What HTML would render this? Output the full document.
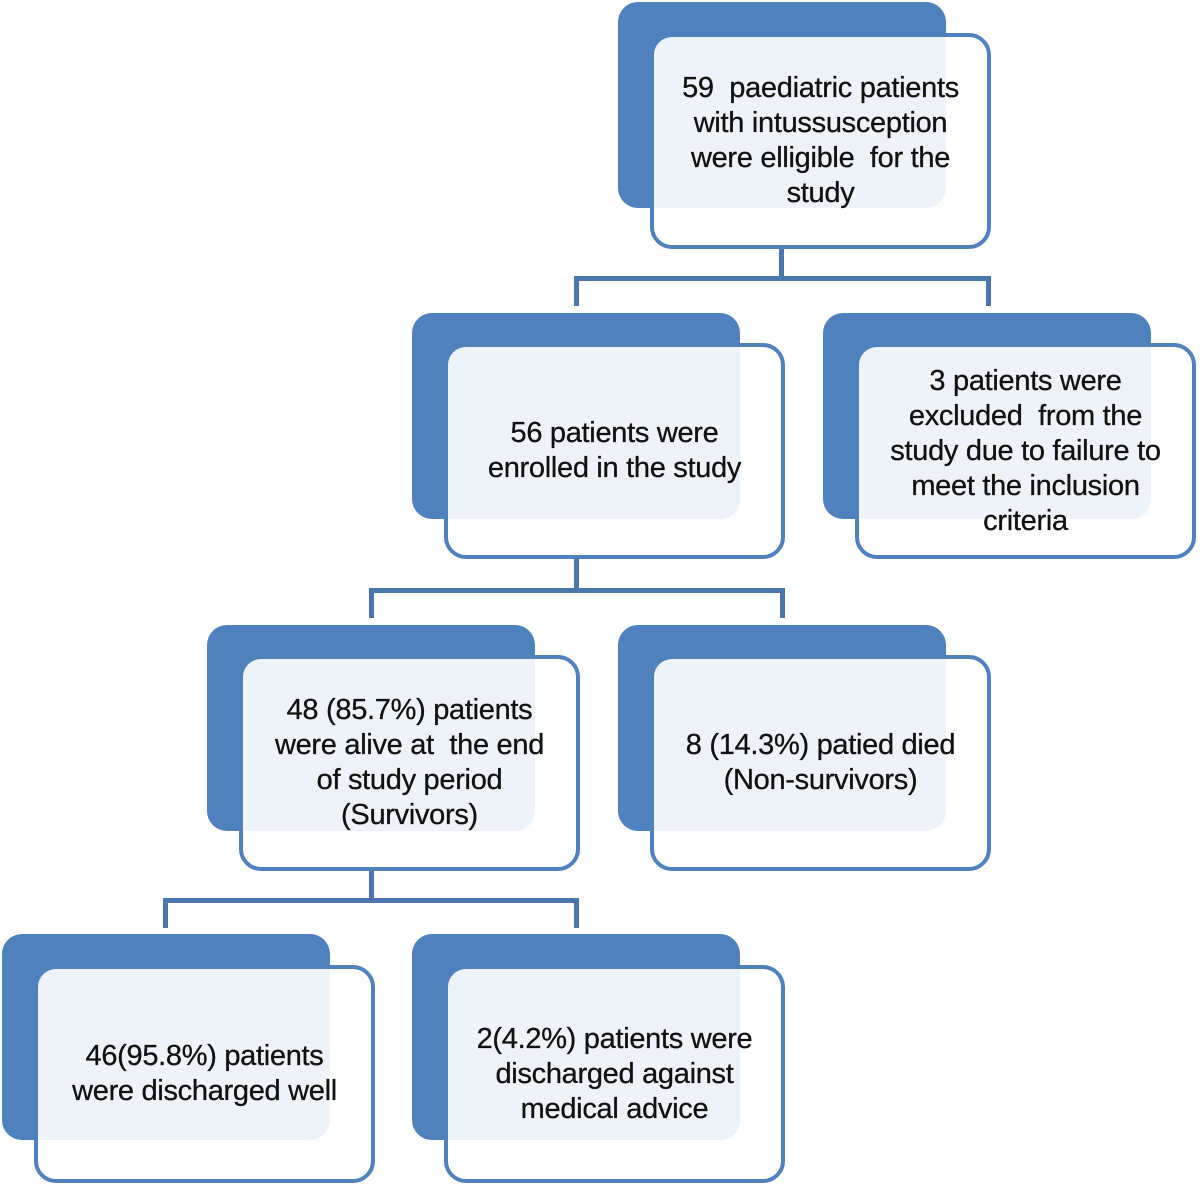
<!DOCTYPE html>
<html><head><meta charset="utf-8"><style>
body{margin:0;width:1200px;height:1185px;background:#fff;position:relative;overflow:hidden;font-family:"Liberation Sans",sans-serif}
.b{position:absolute;background:#4f81bd;border-radius:20px;width:328px;height:206px}
.f{position:absolute;background:rgba(255,255,255,0.9);border:4px solid #4f81bd;border-radius:22px;width:332px;height:207px;box-sizing:border-box;display:flex;align-items:center;justify-content:center;text-align:center;font-size:29px;line-height:35px;color:#111;letter-spacing:-0.3px;white-space:nowrap;-webkit-text-stroke:0.3px #111}
.l{position:absolute;background:#4a76ad}
</style></head><body>
<div class="l" style="left:779px;top:245px;width:5px;height:36px"></div>
<div class="l" style="left:574px;top:276px;width:417px;height:5px"></div>
<div class="l" style="left:574px;top:276px;width:5px;height:30px"></div>
<div class="l" style="left:986px;top:276px;width:5px;height:30px"></div>

<div class="l" style="left:574px;top:555px;width:5px;height:37px"></div>
<div class="l" style="left:369px;top:588px;width:416px;height:5px"></div>
<div class="l" style="left:369px;top:588px;width:5px;height:30px"></div>
<div class="l" style="left:780px;top:588px;width:5px;height:30px"></div>

<div class="l" style="left:369px;top:867px;width:5px;height:35px"></div>
<div class="l" style="left:163px;top:898px;width:416px;height:5px"></div>
<div class="l" style="left:163px;top:898px;width:5px;height:30px"></div>
<div class="l" style="left:574px;top:898px;width:5px;height:30px"></div>

<div class="b" style="left:618px;top:2px"></div>
<div class="f" style="left:650px;top:33px;width:341px;height:216px">59&nbsp; paediatric patients<br>with intussusception<br>were elligible&nbsp; for the<br>study</div>

<div class="b" style="left:412px;top:313px"></div>
<div class="f" style="left:444px;top:343px;width:341px;height:216px">56 patients were<br>enrolled in the study</div>

<div class="b" style="left:823px;top:313px"></div>
<div class="f" style="left:855px;top:343px;width:341px;height:216px">3 patients were<br>excluded&nbsp; from the<br>study due to failure to<br>meet the inclusion<br>criteria</div>

<div class="b" style="left:207px;top:625px"></div>
<div class="f" style="left:239px;top:655px;width:341px;height:216px">48 (85.7%) patients<br>were alive at&nbsp; the end<br>of study period<br>(Survivors)</div>

<div class="b" style="left:618px;top:625px"></div>
<div class="f" style="left:650px;top:655px;width:341px;height:216px">8 (14.3%) patied died<br>(Non-survivors)</div>

<div class="b" style="left:2px;top:934px"></div>
<div class="f" style="left:34px;top:965px;width:341px;height:218px">46(95.8%) patients<br>were discharged well</div>

<div class="b" style="left:412px;top:934px"></div>
<div class="f" style="left:444px;top:965px;width:341px;height:218px">2(4.2%) patients were<br>discharged against<br>medical advice</div>
</body></html>
